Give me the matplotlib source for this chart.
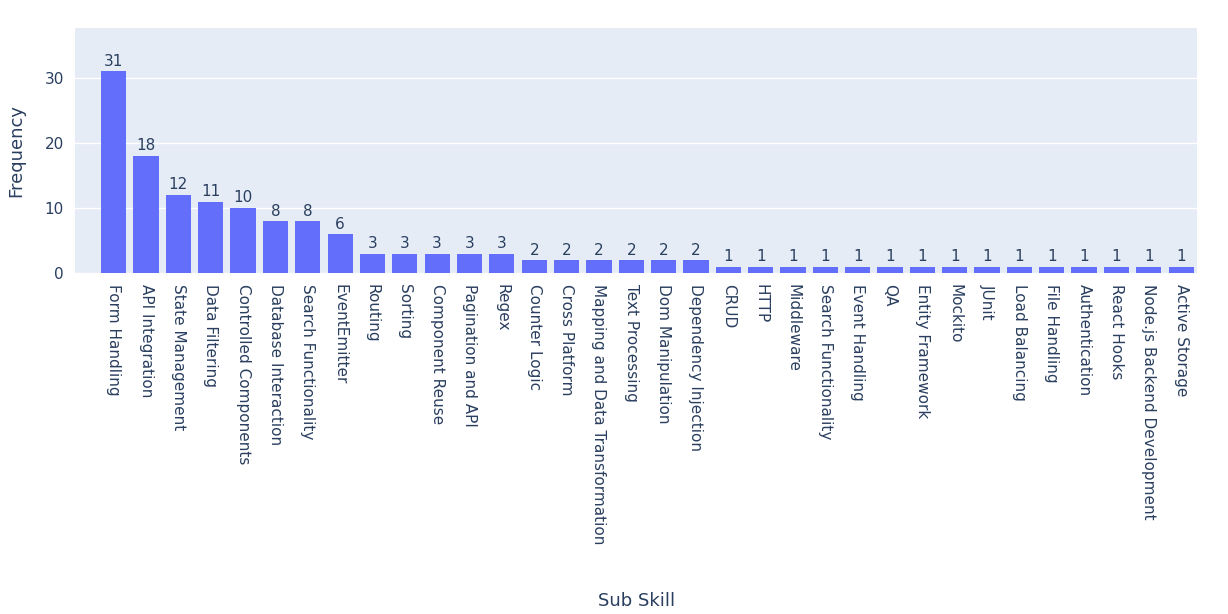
import matplotlib
matplotlib.use("Agg")
import matplotlib.pyplot as plt

skills = ["Form Handling","API Integration","State Management","Data Filtering","Controlled Components",
          "Database Interaction","Search Functionality","EventEmitter","Routing","Sorting","Component Reuse",
          "Pagination and API","Regex","Counter Logic","Cross Platform","Mapping and Data Transformation",
          "Text Processing","Dom Manipulation","Dependency Injection","CRUD","HTTP","Middleware",
          "Search Functionality","Event Handling","QA","Entity Framework","Mockito","JUnit","Load Balancing",
          "File Handling","Authentication","React Hooks","Node.js Backend Development","Active Storage"]
freq = [31,18,12,11,10,8,8,6,3,3,3,3,3,2,2,2,2,2,2,1,1,1,1,1,1,1,1,1,1,1,1,1,1,1]

txt = "#2a3f5f"
fig = plt.figure(figsize=(12.28, 6.14), dpi=100)
ax = fig.add_axes([0.061, 0.555, 0.914, 0.40])
ax.set_facecolor("#E5ECF6")
x = list(range(len(skills)))
ax.bar(x, freq, width=0.78, color="#636EFA", zorder=3)
for xi, v in zip(x, freq):
    ax.text(xi, v + 0.4, str(v), ha="center", va="bottom", fontsize=11, color=txt, zorder=4)
ax.set_xlim(-1.2, len(skills) - 0.5)
ax.set_ylim(0, 37.7)
ax.set_yticks([0, 10, 20, 30])
ax.grid(axis="y", color="white", linewidth=1, zorder=0)
ax.set_xticks(x)
ax.set_xticklabels(skills, rotation=-90, fontsize=11, color=txt)
ax.tick_params(axis="y", labelsize=11, colors=txt, length=0, pad=8)
ax.tick_params(axis="x", length=0, pad=8)
for s in ax.spines.values():
    s.set_visible(False)
ax.set_ylabel("Frequency", fontsize=13, color=txt, labelpad=14)
ax.set_xlabel("Sub Skill", fontsize=13, color=txt, labelpad=34)
fig.savefig("out.png", dpi=100)
